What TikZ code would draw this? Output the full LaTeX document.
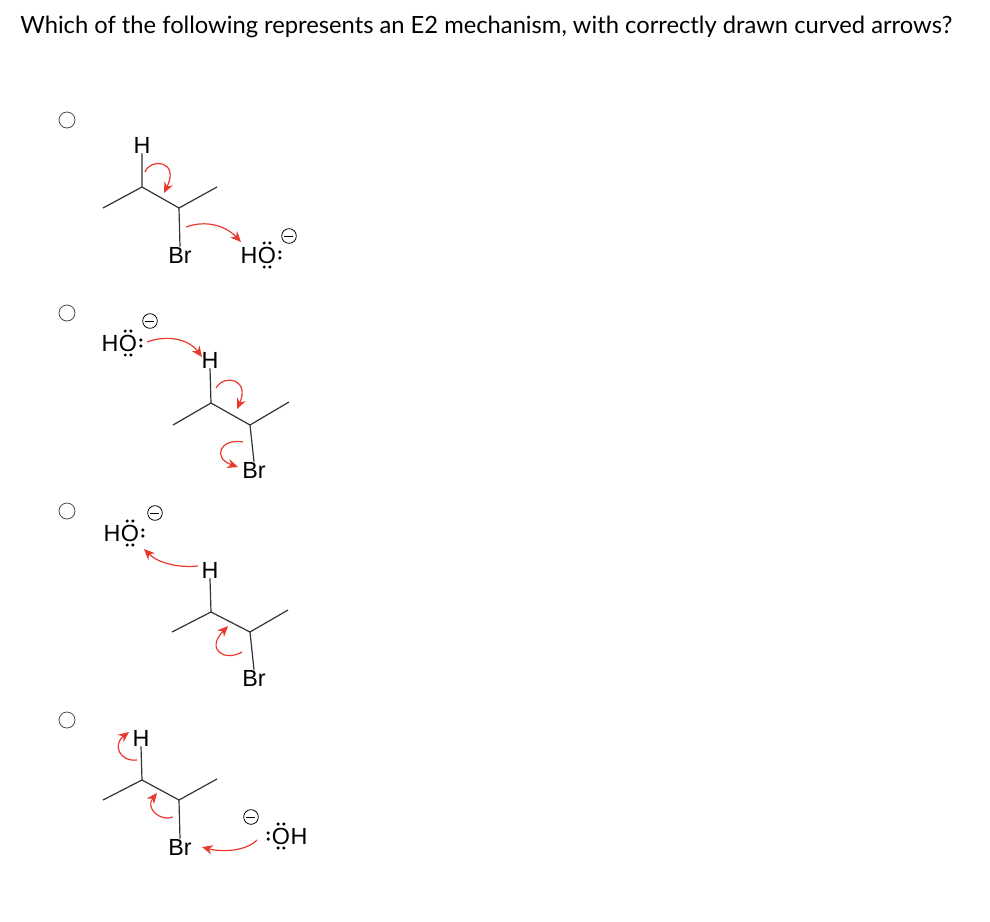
\documentclass[tikz,border=0pt]{standalone}
\usepackage{fontspec}
\setmainfont{Liberation Sans}
\newfontfamily\lato{Lato}
\usetikzlibrary{arrows.meta}
\definecolor{bnd}{HTML}{333333}
\definecolor{arr}{HTML}{E8392C}
\tikzset{
 bond/.style={draw=bnd,line width=0.9pt},
 curv/.style={draw=arr,line width=0.9pt,-{Stealth[length=8pt,width=7pt]}},
 atom/.style={inner sep=0pt,font=\fontsize{17.5}{17.5}\selectfont,text=black},
 radio/.style={draw=black!70,line width=0.6pt,circle,minimum size=12pt,inner sep=0pt},
 chg/.style={draw=black,line width=0.6pt,circle,minimum size=11pt,inner sep=0pt},
 lp/.style={fill=black,circle,inner sep=0pt,minimum size=2.6pt}
}
\begin{document}
\begin{tikzpicture}[x=0.75pt,y=-0.75pt]
\useasboundingbox (0,0) rectangle (990,922);
\node[anchor=west,inner sep=0pt,font=\lato\fontsize{17.8}{20}\selectfont] (title) at (20,27) {Which of the following represents an E2 mechanism, with correctly drawn curved arrows?};
\foreach \y/\n in {120/r1,313/r2,511/r3,720/r4} \node[radio] (\n) at (67,\y) {};
% ---------- 1
\node[atom] (a1h) at (142,145) {H};
\coordinate (a1c1) at (142,187);
\coordinate (a1l) at (103,208);
\coordinate (a1c2) at (179,208);
\coordinate (a1r) at (217,187);
\node[atom] (a1br) at (180,255) {Br};
\draw[bond] (a1h.south) -- (a1c1) -- (a1l);
\draw[bond] (a1c1) -- (a1c2) -- (a1r);
\draw[bond] (a1c2) -- (a1br.north);
\node[atom] (a1oh) at (249,255) {H};
\node[atom,anchor=west] (a1o) at (a1oh.east) {O};
\node[chg] (a1m) at (289,236) {};
\draw (a1m.west) ++(2pt,0) -- ++(7pt,0);
\foreach \dx in {-2.1,2.1} {\node[lp] at ([xshift=\dx pt,yshift=2.6pt]a1o.north) {}; \node[lp] at ([xshift=\dx pt,yshift=-2.6pt]a1o.south) {};}
\foreach \dy in {-2.3,2.3} \node[lp] at ([xshift=2.6pt,yshift=\dy pt]a1o.east) {};
\draw[curv] (145,172) .. controls (150,158) and (180,160) .. (164,193);
\draw[curv] (186,227) .. controls (205,220) and (225,225) .. (241,242);
% ---------- 2
\node[atom] (a2oh) at (110,343) {H};
\node[atom,anchor=west] (a2o) at (a2oh.east) {O};
\node[chg] (a2m) at (150,321) {};
\draw (a2m.west) ++(2pt,0) -- ++(7pt,0);
\foreach \dx in {-2.1,2.1} {\node[lp] at ([xshift=\dx pt,yshift=2.6pt]a2o.north) {}; \node[lp] at ([xshift=\dx pt,yshift=-2.6pt]a2o.south) {};}
\foreach \dy in {-2.3,2.3} \node[lp] at ([xshift=2.6pt,yshift=\dy pt]a2o.east) {};
\node[atom] (a2h) at (210,360) {H};
\coordinate (a2c1) at (211,403);
\coordinate (a2l) at (173,425);
\coordinate (a2c2) at (250,425);
\coordinate (a2r) at (289,402);
\node[atom] (a2br) at (254,470) {Br};
\draw[bond] (a2h.south) -- (a2c1) -- (a2l);
\draw[bond] (a2c1) -- (a2c2) -- (a2r);
\draw[bond] (a2c2) -- (a2br.north);
\draw[curv] (147,342) .. controls (165,335) and (188,338) .. (202,357);
\draw[curv] (216,388) .. controls (225,373) and (250,380) .. (237,409);
\draw[curv] (243,442) .. controls (220,438) and (212,458) .. (238,467);
% ---------- 3
\node[atom] (a3oh) at (112,533) {H};
\node[atom,anchor=west] (a3o) at (a3oh.east) {O};
\node[chg] (a3m) at (155,513) {};
\draw (a3m.west) ++(2pt,0) -- ++(7pt,0);
\foreach \dx in {-2.1,2.1} {\node[lp] at ([xshift=\dx pt,yshift=2.6pt]a3o.north) {}; \node[lp] at ([xshift=\dx pt,yshift=-2.6pt]a3o.south) {};}
\foreach \dy in {-2.3,2.3} \node[lp] at ([xshift=2.6pt,yshift=\dy pt]a3o.east) {};
\node[atom] (a3h) at (210,570) {H};
\coordinate (a3c1) at (211,612);
\coordinate (a3l) at (172,632);
\coordinate (a3c2) at (250,632);
\coordinate (a3r) at (288,610);
\node[atom] (a3br) at (254,678) {Br};
\draw[bond] (a3h.south) -- (a3c1) -- (a3l);
\draw[bond] (a3c1) -- (a3c2) -- (a3r);
\draw[bond] (a3c2) -- (a3br.north);
\draw[curv] (198,566) .. controls (178,568) and (158,563) .. (144,549);
\draw[curv] (242,652) .. controls (225,662) and (205,650) .. (228,626);
% ---------- 4
\node[atom] (a4h) at (141,738) {H};
\coordinate (a4c1) at (142,780);
\coordinate (a4l) at (103,800);
\coordinate (a4c2) at (179,800);
\coordinate (a4r) at (217,779);
\node[atom] (a4br) at (180,847) {Br};
\draw[bond] (a4h.south) -- (a4c1) -- (a4l);
\draw[bond] (a4c1) -- (a4c2) -- (a4r);
\draw[bond] (a4c2) -- (a4br.north);
\node[atom] (a4o) at (281,836) {O};
\node[atom,anchor=west] (a4oh) at (a4o.east) {H};
\node[chg] (a4m) at (251,817) {};
\draw (a4m.west) ++(2pt,0) -- ++(7pt,0);
\foreach \dx in {-2.1,2.1} {\node[lp] at ([xshift=\dx pt,yshift=2.6pt]a4o.north) {}; \node[lp] at ([xshift=\dx pt,yshift=-2.6pt]a4o.south) {};}
\foreach \dy in {-2.3,2.3} \node[lp] at ([xshift=-2.6pt,yshift=\dy pt]a4o.west) {};
\draw[curv] (137,760) .. controls (120,762) and (112,745) .. (129,732);
\draw[curv] (173,817) .. controls (160,822) and (145,808) .. (157,793);
\draw[curv] (257,840) .. controls (245,852) and (220,852) .. (202,847);
\end{tikzpicture}
\end{document}
